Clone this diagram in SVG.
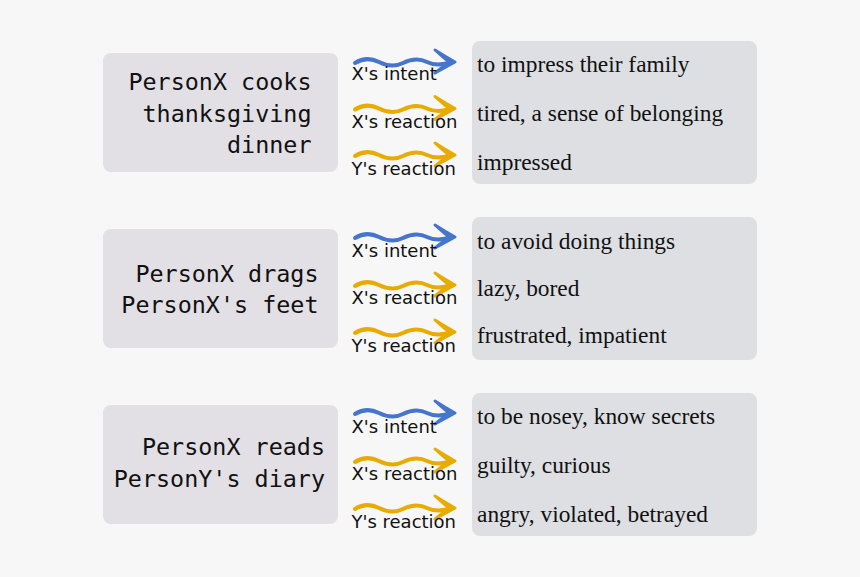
<svg xmlns="http://www.w3.org/2000/svg" xmlns:xlink="http://www.w3.org/1999/xlink" width="860" height="577" viewBox="0 0 860 577">
<style>
.ev{fill:#e2dfe5}
.inf{fill:#dddfe3}
.evt{font-family:"DejaVu Sans Mono","Liberation Mono",monospace;font-size:23.4px;fill:#111;text-anchor:end}
.rt{font-family:"Liberation Serif","Times New Roman",serif;font-size:23.4px;fill:#111}
.lab{font-family:"DejaVu Sans","Verdana",sans-serif;font-size:18px;fill:#111}
.blue{stroke:#4675cc;fill:#4675cc}
.yel{stroke:#e8ab00;fill:#e8ab00}
.ar{stroke-linecap:round;stroke-linejoin:round}
.wave{fill:none;stroke-width:4}
.head{stroke-width:3}
</style>
<defs>
<g id="arrow">
<path class="wave" d="M-100,1 C-92,-4 -84,-4 -76,0 S-60,5 -52,1 S-36,-4 -28,0 S-12,3 -3,0"/>
<path class="head" d="M-20,-12 Q-9,-5 0,0 Q-9,5 -20,11 Q-10,3 -6,0 Q-10,-3 -20,-12 Z"/>
</g>
</defs>
<rect width="860" height="577" fill="#f7f7f7"/>

<g id="event1">
<rect class="ev" x="103" y="53" width="235" height="119" rx="8"/>
<text class="evt" x="311.5" y="90">PersonX cooks</text>
<text class="evt" x="311.5" y="121.5">thanksgiving</text>
<text class="evt" x="311.5" y="153">dinner</text>
</g>
<g id="event2">
<rect class="ev" x="103" y="229" width="235" height="119" rx="8"/>
<text class="evt" x="318.5" y="281.5">PersonX drags</text>
<text class="evt" x="318.5" y="313">PersonX's feet</text>
</g>
<g id="event3">
<rect class="ev" x="103" y="405" width="235" height="119" rx="8"/>
<text class="evt" x="325" y="455">PersonX reads</text>
<text class="evt" x="325" y="487">PersonY's diary</text>
</g>

<g id="inferences1">
<rect class="inf" x="472" y="41" width="285" height="143" rx="8"/>
<text class="rt" x="477" y="72">to impress their family</text>
<text class="rt" x="477" y="121">tired, a sense of belonging</text>
<text class="rt" x="477" y="170">impressed</text>
</g>
<g id="inferences2">
<rect class="inf" x="472" y="217" width="285" height="143" rx="8"/>
<text class="rt" x="477" y="249">to avoid doing things</text>
<text class="rt" x="477" y="296">lazy, bored</text>
<text class="rt" x="477" y="343">frustrated, impatient</text>
</g>
<g id="inferences3">
<rect class="inf" x="472" y="393" width="285" height="143" rx="8"/>
<text class="rt" x="477" y="424">to be nosey, know secrets</text>
<text class="rt" x="477" y="473">guilty, curious</text>
<text class="rt" x="477" y="522">angry, violated, betrayed</text>
</g>

<g id="connectors">
<use href="#arrow" xlink:href="#arrow" class="ar blue" x="455" y="62"/>
<use href="#arrow" xlink:href="#arrow" class="ar yel" x="455" y="108.5"/>
<use href="#arrow" xlink:href="#arrow" class="ar yel" x="455" y="155"/>
<use href="#arrow" xlink:href="#arrow" class="ar blue" x="455" y="237"/>
<use href="#arrow" xlink:href="#arrow" class="ar yel" x="455" y="285"/>
<use href="#arrow" xlink:href="#arrow" class="ar yel" x="455" y="332"/>
<use href="#arrow" xlink:href="#arrow" class="ar blue" x="455" y="413"/>
<use href="#arrow" xlink:href="#arrow" class="ar yel" x="455" y="461"/>
<use href="#arrow" xlink:href="#arrow" class="ar yel" x="455" y="508"/>
<text class="lab" x="351.5" y="80">X's intent</text>
<text class="lab" x="351.5" y="128">X's reaction</text>
<text class="lab" x="351.5" y="175">Y's reaction</text>
<text class="lab" x="351.5" y="256.5">X's intent</text>
<text class="lab" x="351.5" y="304">X's reaction</text>
<text class="lab" x="351.5" y="351.5">Y's reaction</text>
<text class="lab" x="351.5" y="432.5">X's intent</text>
<text class="lab" x="351.5" y="480">X's reaction</text>
<text class="lab" x="351.5" y="527.5">Y's reaction</text>
</g>
</svg>
